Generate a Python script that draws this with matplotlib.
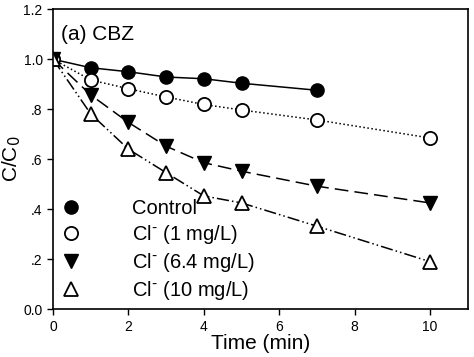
import numpy as np
import matplotlib
matplotlib.use('Agg')
import matplotlib.pyplot as plt
from matplotlib.ticker import FixedLocator, FixedFormatter

plt.rcParams['font.family'] = ['Liberation Sans', 'DejaVu Sans']

# data
t_control = [0, 1, 2, 3, 4, 5, 7]
control = [1.0, 0.966, 0.950, 0.929, 0.922, 0.904, 0.876]

t_cl = [0, 1, 2, 3, 4, 5, 7, 10]
cl_1 = [1.0, 0.917, 0.882, 0.849, 0.819, 0.797, 0.757, 0.685]
cl_64 = [1.0, 0.857, 0.747, 0.652, 0.586, 0.552, 0.492, 0.425]
cl_10 = [1.0, 0.781, 0.640, 0.546, 0.453, 0.425, 0.332, 0.190]

labels = ['Control', 'Cl$^{\\text{-}}$ (1 mg/L)', 'Cl$^{\\text{-}}$ (6.4 mg/L)',
          'Cl$^{\\text{-}}$ (10 mg/L)']

yticks = [0.0, 0.2, 0.4, 0.6, 0.8, 1.0, 1.2]
ytick_labels = ['0.0', '.2', '.4', '.6', '.8', '1.0', '1.2']

fig = plt.figure(figsize=(4.74, 3.57), dpi=100)
ax = fig.add_axes([0.112, 0.134, 0.875, 0.840])

ms = 9.5
ax.plot(t_control, control, '-', color='black', lw=1.1, marker='o',
        ms=ms, mfc='black', mec='black', label=labels[0])
ax.plot(t_cl, cl_1, ':', color='black', lw=1.1, marker='o',
        ms=ms, mfc='white', mec='black', mew=1.3, label=labels[1])
ax.plot(t_cl, cl_64, color='black', lw=1.1, dashes=(9, 4), marker='v',
        ms=ms + 1, mfc='black', mec='black', label=labels[2])
ax.plot(t_cl, cl_10, color='black', lw=1.1, dashes=(8, 2, 1, 2, 1, 2), marker='^',
        ms=ms + 1, mfc='white', mec='black', mew=1.3, label=labels[3])

ax.set_xlim(0, 11)
ax.set_ylim(0, 1.2)
ax.set_xticks([0, 2, 4, 6, 8, 10])
ax.yaxis.set_major_locator(FixedLocator(yticks))
ax.yaxis.set_major_formatter(FixedFormatter(ytick_labels))
ax.tick_params(direction='out', labelsize=10, length=4, width=1)
for s in ax.spines.values():
    s.set_linewidth(1.2)

ax.set_xlabel('Time (min)', fontsize=15, labelpad=0)
ax.set_ylabel('C/C$_0$', fontsize=15, labelpad=0)
ax.text(0.2, 1.10, '(a) CBZ', fontsize=15, va='center')

leg = ax.legend(loc='lower left', frameon=False, fontsize=14.5, handlelength=0,
                handletextpad=3.0, labelspacing=0.25, borderaxespad=0.1,
                bbox_to_anchor=(0.02, -0.01))
for h in leg.legend_handles:
    h.set_linestyle('none')

fig.savefig('out.png', dpi=100)
